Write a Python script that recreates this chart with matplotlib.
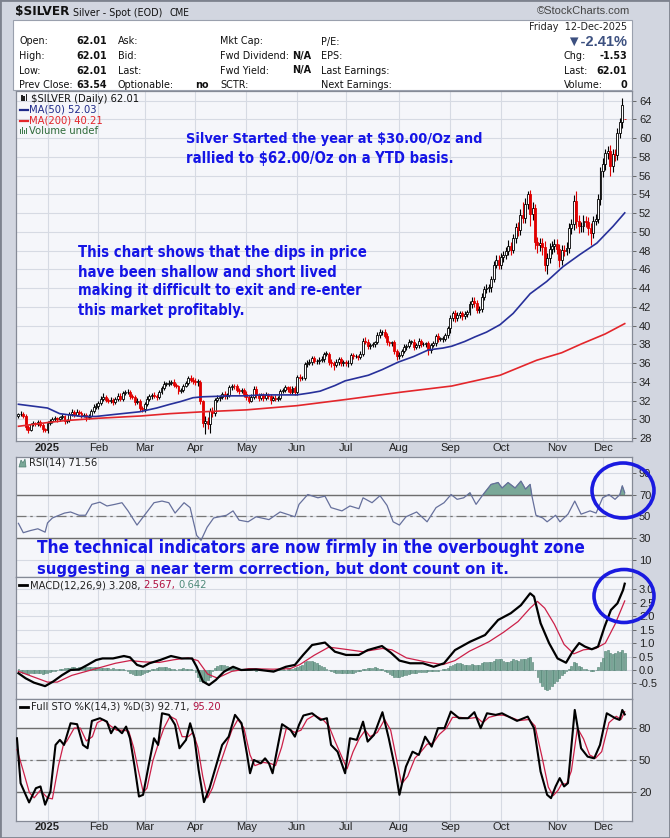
import os
import numpy as np
import pandas as pd
import matplotlib
matplotlib.use('Agg')
import matplotlib.pyplot as plt
from matplotlib import font_manager as fm
from matplotlib.patches import Ellipse, Rectangle, Polygon
from matplotlib.lines import Line2D

# ---------------- data ----------------
holidays = ['2024-12-25', '2025-01-01', '2025-01-20', '2025-02-17', '2025-04-18',
            '2025-05-26', '2025-06-19', '2025-07-04', '2025-09-01', '2025-11-27']
dates = pd.bdate_range('2024-12-13', '2025-12-12')
dates = dates[~dates.isin(pd.to_datetime(holidays))]

closes = [
    30.55, 30.6, 30.3, 29.2, 28.9, 29.45, 29.6, 29.5, 29.7, 29.35, 28.95, 28.85,             # Dec
    29.6, 29.8, 30.0, 30.1, 30.0, 30.2, 30.3, 29.8, 29.9, 30.6, 30.8, 30.5, 30.8, 30.7,
    30.4, 30.5, 30.2, 30.4, 30.9, 31.3, 31.4,                                                # Jan
    31.7, 32.2, 32.4, 32.1, 31.9, 32.1, 31.8, 32.2, 32.5, 32.2, 32.8, 32.9, 32.9, 32.5,
    32.4, 31.8, 32.0, 31.2, 31.1,                                                            # Feb
    31.6, 32.2, 32.5, 32.6, 32.5, 32.4, 32.9, 33.3, 33.8, 33.8, 33.9, 34.0, 33.7, 33.5,
    33.0, 33.1, 33.6, 33.9, 34.4, 34.2, 34.1,                                                # Mar
    34.0, 34.0, 31.9, 29.6, 29.8, 29.5, 30.9, 30.7, 32.1, 32.3, 32.4, 32.7, 32.5, 32.6,
    33.4, 33.6, 33.5, 33.1, 33.0, 33.1, 32.7,                                                # Apr
    32.4, 32.0, 32.4, 33.2, 32.6, 32.3, 32.6, 32.3, 32.6, 32.5, 32.1, 32.3, 32.2, 32.3,
    33.0, 33.1, 33.4, 33.2, 32.9, 33.3, 32.9,                                                # May
    34.5, 34.4, 34.4, 35.9, 36.0, 36.1, 36.5, 36.2, 36.2, 36.3, 36.4, 37.0, 37.0, 36.1,
    36.0, 35.8, 36.1, 36.4, 36.0, 36.1,                                                      # Jun
    36.0, 36.0, 36.9, 36.7, 36.7, 36.6, 37.0, 38.4, 38.3, 37.8, 37.9, 38.0, 38.2, 39.0,
    39.3, 39.3, 38.9, 38.2, 38.1, 38.2, 37.3, 36.7,                                          # Jul
    36.9, 37.3, 37.7, 37.8, 38.3, 38.3, 37.7, 37.9, 38.4, 38.0, 38.0, 38.1, 37.4, 37.9,
    38.1, 38.9, 38.6, 38.6, 38.6, 39.0, 39.7,                                                # Aug
    40.8, 41.3, 40.8, 41.1, 41.3, 41.0, 41.2, 41.4, 42.3, 42.6, 42.4, 41.7, 41.8, 43.1,
    43.9, 44.0, 44.1, 45.0, 46.5, 47.0, 46.5,                                                # Sep
    47.3, 47.5, 48.0, 48.5, 48.1, 49.3, 50.5, 50.2, 51.8, 51.5, 53.0, 54.0, 51.9, 52.6,
    48.9, 48.6, 48.8, 48.4, 46.5, 47.2, 48.2, 48.5, 48.7,                                    # Oct
    48.2, 47.0, 48.1, 48.0, 48.3, 50.4, 50.8, 53.3, 51.2, 50.6, 50.6, 51.2, 51.1, 50.4,
    49.9, 51.2, 51.4, 53.5, 56.5,                                                            # Nov
    57.3, 58.4, 58.6, 57.0, 58.3, 58.2, 60.6, 61.7, 63.54, 62.01,                            # Dec
]
wick_up = [
    0.15, 0.25, 0.2, 0.3, 0.2, 0.15, 0.2, 0.1, 0.25, 0.2, 0.2, 0.15,
    0.2, 0.2, 0.25, 0.2, 0.15, 0.2, 0.3, 0.2, 0.15, 0.2, 0.3, 0.2, 0.25, 0.2, 0.2, 0.15, 0.2, 0.2, 0.2, 0.3, 0.35,
    0.3, 0.3, 0.4, 0.2, 0.2, 0.3, 0.2, 0.2, 0.3, 0.3, 0.25, 0.2, 0.3, 0.2, 0.2, 0.2, 0.3, 0.2, 0.2,
    0.2, 0.3, 0.2, 0.2, 0.3, 0.2, 0.2, 0.3, 0.3, 0.2, 0.3, 0.2, 0.3, 0.2, 0.2, 0.2, 0.2, 0.2, 0.2, 0.3, 0.3,
    0.3, 0.3, 0.2, 0.2, 0.5, 0.4, 0.3, 0.4, 0.2, 0.3, 0.2, 0.2, 0.3, 0.2, 0.3, 0.2, 0.2, 0.3, 0.2, 0.2, 0.2,
    0.3, 0.2, 0.3, 0.3, 0.3, 0.2, 0.2, 0.2, 0.3, 0.2, 0.2, 0.2, 0.3, 0.2, 0.2, 0.2, 0.3, 0.2, 0.3, 0.2, 0.2,
    0.2, 0.3, 0.2, 0.2, 0.3, 0.3, 0.2, 0.3, 0.2, 0.3, 0.3, 0.2, 0.3, 0.2, 0.3, 0.2, 0.3, 0.2, 0.2, 0.2,
    0.2, 0.3, 0.2, 0.2, 0.3, 0.2, 0.3, 0.3, 0.4, 0.3, 0.2, 0.3, 0.2, 0.3, 0.3, 0.2, 0.3, 0.3, 0.2, 0.2, 0.3, 0.2,
    0.3, 0.2, 0.3, 0.2, 0.3, 0.2, 0.3, 0.2, 0.3, 0.2, 0.3, 0.2, 0.3, 0.2, 0.3, 0.2, 0.3, 0.2, 0.3, 0.2, 0.3,
    0.3, 0.3, 0.4, 0.3, 0.3, 0.3, 0.4, 0.3, 0.3, 0.4, 0.4, 0.3, 0.3, 0.4, 0.3, 0.4, 0.3, 0.3, 0.4, 0.5, 0.5,
    0.4, 0.5, 0.4, 0.6, 0.4, 0.5, 0.5, 0.6, 0.6, 1.4, 0.6, 0.4, 0.5, 0.6, 0.4, 0.6, 0.6, 0.5, 0.6, 0.5, 0.6, 0.5, 0.5,
    0.5, 0.5, 0.5, 0.5, 0.6, 0.5, 0.6, 0.6, 1.1, 0.6, 0.5, 0.6, 0.5, 0.5, 0.6, 0.5, 0.5, 0.5, 0.4,
    0.6, 0.5, 0.6, 0.7, 0.5, 0.6, 0.5, 0.5, 0.8, 0.0,
]
wick_dn = [
    0.2, 0.15, 0.2, 0.3, 0.35, 0.2, 0.15, 0.2, 0.2, 0.2, 0.3, 0.25,
    0.3, 0.2, 0.2, 0.15, 0.3, 0.2, 0.2, 0.3, 0.2, 0.2, 0.2, 0.3, 0.2, 0.25, 0.3, 0.2, 0.4, 0.2, 0.2, 0.2, 0.25,
    0.3, 0.2, 0.2, 0.3, 0.2, 0.2, 0.3, 0.2, 0.2, 0.3, 0.2, 0.2, 0.2, 0.3, 0.2, 0.3, 0.2, 0.3, 0.3,
    0.3, 0.2, 0.2, 0.3, 0.2, 0.3, 0.2, 0.2, 0.2, 0.3, 0.2, 0.2, 0.3, 0.2, 0.3, 0.2, 0.2, 0.2, 0.2, 0.2, 0.3,
    0.3, 0.4, 0.3, 0.4, 1.2, 0.5, 1.0, 0.5, 0.3, 0.3, 0.3, 0.2, 0.3, 0.3, 0.2, 0.3, 0.3, 0.2, 0.3, 0.2, 0.3,
    0.3, 0.3, 0.2, 0.2, 0.3, 0.3, 0.2, 0.3, 0.2, 0.3, 0.5, 0.2, 0.3, 0.3, 0.2, 0.2, 0.2, 0.3, 0.2, 0.2, 0.3,
    0.3, 0.3, 0.2, 0.2, 0.3, 0.2, 0.3, 0.2, 0.3, 0.3, 0.2, 0.3, 0.2, 0.3, 0.4, 0.5, 0.2, 0.3, 0.3, 0.3,
    0.3, 0.4, 0.2, 0.3, 0.2, 0.3, 0.2, 0.3, 0.3, 0.3, 0.3, 0.2, 0.3, 0.2, 0.3, 0.3, 0.2, 0.3, 0.3, 0.3, 0.3, 0.4,
    0.3, 0.3, 0.2, 0.3, 0.2, 0.3, 0.3, 0.2, 0.3, 0.3, 0.2, 0.3, 0.5, 0.3, 0.2, 0.3, 0.3, 0.2, 0.3, 0.2, 0.3,
    0.5, 0.3, 0.4, 0.3, 0.3, 0.4, 0.3, 0.3, 0.3, 0.4, 0.4, 0.4, 0.4, 0.3, 0.4, 0.4, 0.4, 0.5, 0.4, 0.4, 0.5,
    0.5, 0.5, 0.4, 0.5, 0.6, 0.4, 0.5, 0.6, 0.5, 0.6, 0.5, 0.6, 1.3, 0.6, 0.7, 0.8, 0.6, 0.9, 0.7, 1.0, 0.5, 0.6, 0.6,
    0.6, 0.8, 0.5, 0.6, 0.5, 0.6, 0.6, 0.6, 0.8, 0.7, 0.6, 0.6, 0.6, 0.7, 1.3, 0.6, 0.5, 0.5, 0.6,
    0.6, 0.7, 0.6, 1.0, 0.6, 0.6, 0.5, 0.6, 0.6, 0.0,
]
first_open = 30.35
last_open = 62.01

ma50_x = [0, 12, 17, 26, 32, 39, 50, 57, 62.5, 67, 72, 76, 88, 94, 100, 114.7, 120, 124.4, 130.5,
          134.7, 144.3, 150, 156.6, 163, 169, 175, 178.7, 184, 188.3, 193, 198.6, 204, 211, 217.8,
          224.6, 231.6, 238.5, 245.2, 250]
ma50_v = [31.6, 31.2, 30.6, 30.3, 30.3, 30.5, 30.8, 31.2, 31.6, 31.9, 32.3, 32.4, 32.5, 32.5, 32.6,
          32.6, 32.8, 33.0, 33.6, 34.1, 34.7, 35.3, 36.1, 36.7, 37.4, 37.6, 37.8, 38.3, 38.8, 39.3,
          40.1, 41.3, 43.4, 44.7, 46.3, 47.6, 48.8, 50.6, 52.03]
ma200_x = [0, 12, 19, 32.5, 50.4, 62.5, 76.2, 93.8, 114.8, 134.7, 158, 178.7, 198.6, 213.7, 224,
           232.2, 241.9, 250]
ma200_v = [29.25, 29.65, 29.85, 30.1, 30.35, 30.6, 30.8, 31.0, 31.45, 32.1, 32.9, 33.55, 34.7, 36.3,
           37.1, 38.05, 39.1, 40.21]

rsi_x = [0, 2, 5, 8, 11, 12, 14, 19, 21.5, 25, 27.7, 30.3, 33.6, 36.5, 39.8, 42.7, 45.2, 48.9, 53,
         55.9, 59.2, 62, 64.6, 68.3, 70.8, 73.5, 75.3, 77.8, 80.5, 85.8, 88.5, 91, 94.7, 98, 103.3,
         107.9, 114, 115.7, 119.3, 123.5, 126.4, 128.9, 133.4, 136.7, 140.4, 142.1, 145.8, 149.1,
         152, 154.5, 157.1, 159.8, 164.2, 168.5, 172.2, 175.5, 178.4, 180.9, 183.6, 186.2, 188.7,
         191.6, 194.9, 197.8, 199.4, 201.9, 204.8, 207.2, 209.1, 211, 211.8, 213.4, 216.2, 218,
         221.5, 223.3, 226.6, 229.4, 232, 235.7, 238.2, 240.9, 243.5, 246, 248, 249, 250]
rsi_v = [43.6, 35, 37, 38.6, 35.5, 44, 48.5, 53, 54, 51, 51, 61, 63, 59.5, 61, 62.5, 55, 42, 54,
         62.5, 64, 62.5, 53, 62.5, 58, 32.5, 28, 40, 48.5, 51, 55, 46.5, 45, 49.6, 47, 54, 49.6,
         61, 70, 67, 68.5, 58, 55, 59.5, 57, 67, 62.5, 69, 60, 45, 42, 49.6, 54, 45, 58, 62.5, 70,
         65.6, 67, 71.6, 61, 70, 79.3, 81, 76, 81, 76, 82.3, 75, 79.3, 68, 51, 48.5, 45, 51, 45,
         52, 64, 52, 55, 53, 67, 70, 65.6, 70, 78, 71.56]

macd_x = [0, 3, 6.4, 11, 14.3, 18, 21.5, 25, 28.5, 32, 34.7, 39, 43.5, 46, 48.9, 51.4, 54, 58.4,
          62.9, 67.3, 71.6, 73.5, 76.1, 78.6, 81.4, 84.8, 88.5, 91.8, 98, 105.2, 110.3, 114, 117.4,
          121.1, 126.4, 130.5, 135.1, 140.4, 144, 149.9, 153.6, 157.1, 161.5, 166.8, 171.2, 175.5,
          180, 186.2, 192.4, 197.8, 203, 207.2, 211, 212.6, 215.3, 218.8, 222.3, 225.8, 228.5,
          231.2, 233.6, 236.4, 239, 241.7, 244.3, 247, 249.3, 250]
macd_v = [-0.12, -0.31, -0.47, -0.6, -0.43, -0.19, 0.0, 0.02, 0.19, 0.37, 0.43, 0.43, 0.52, 0.47,
          0.19, 0.12, 0.25, 0.37, 0.52, 0.43, 0.43, 0.12, -0.43, -0.56, -0.37, -0.06, 0.12, 0.0,
          0.02, -0.06, 0.12, 0.19, 0.56, 0.93, 1.02, 0.68, 0.56, 0.56, 0.74, 0.89, 0.64, 0.35, 0.25,
          0.25, 0.12, 0.25, 0.74, 1.05, 1.3, 1.86, 2.11, 2.41, 2.85, 2.73, 1.74, 1.0, 0.43, 0.27,
          0.68, 1.0, 0.87, 0.77, 0.87, 1.61, 2.23, 2.48, 2.97, 3.208]
sig_x = [0, 6, 12, 16, 22, 32, 40, 46, 52, 58, 64, 70, 74, 78, 82, 88, 95, 105, 112, 116, 122, 128,
         134, 142, 150, 154, 160, 168, 175, 180, 186, 194, 200, 206, 211, 214, 217, 221, 225, 229,
         233, 238, 242, 246, 250]
sig_v = [-0.05, -0.25, -0.45, -0.45, -0.2, 0.05, 0.25, 0.35, 0.3, 0.28, 0.38, 0.45, 0.35, -0.15,
         -0.3, -0.05, 0.05, 0.03, 0.05, 0.2, 0.55, 0.85, 0.78, 0.68, 0.8, 0.75, 0.45, 0.3, 0.2, 0.35,
         0.7, 1.05, 1.4, 1.8, 2.3, 2.55, 2.3, 1.7, 0.95, 0.6, 0.75, 0.8, 1.0, 1.7, 2.567]
macd_hist = [
    0.05, -0.05, -0.1, -0.12, -0.15, -0.13, -0.12, -0.1, -0.1, -0.12, -0.14, -0.12,
    -0.1, -0.08, -0.05, -0.02, 0.0, 0.02, 0.04, 0.06, 0.08, 0.08, 0.1, 0.1, 0.09, 0.1, 0.12, 0.12,
    0.13, 0.12, 0.12, 0.12, 0.1,
    0.1, 0.08, 0.08, 0.06, 0.07, 0.05, 0.06, 0.05, 0.04, 0.05, 0.03, 0.0, -0.05, -0.1, -0.15, -0.2,
    -0.2, -0.18, -0.15,
    -0.1, -0.06, -0.02, 0.02, 0.05, 0.08, 0.1, 0.12, 0.12, 0.1, 0.08, 0.05, 0.03, 0.0, 0.02, 0.05,
    0.06, 0.05, 0.03, 0.02, 0.0,
    -0.08, -0.25, -0.4, -0.45, -0.45, -0.38, -0.25, -0.05, 0.08, 0.15, 0.2, 0.2, 0.18, 0.15, 0.12,
    0.1, 0.06, 0.04, 0.02, 0.0, 0.0,
    0.02, 0.03, 0.02, 0.0, -0.02, 0.01, 0.02, 0.0, -0.01, -0.02, -0.03, -0.02, 0.0, 0.02, 0.03,
    0.02, 0.01, 0.03, 0.05, 0.04, 0.06,
    0.1, 0.15, 0.2, 0.28, 0.33, 0.35, 0.33, 0.3, 0.25, 0.2, 0.15, 0.1, 0.05, 0.0, -0.05, -0.08,
    -0.1, -0.12, -0.13, -0.12,
    -0.12, -0.12, -0.1, -0.1, -0.08, -0.05, -0.02, 0.02, 0.05, 0.07, 0.08, 0.08, 0.1, 0.08, 0.05,
    0.02, -0.03, -0.08, -0.15, -0.2, -0.25, -0.25,
    -0.25, -0.22, -0.2, -0.18, -0.15, -0.12, -0.1, -0.1, -0.08, -0.08, -0.07, -0.06, -0.05, -0.05,
    -0.04, -0.03, -0.02, 0.0, 0.02, 0.05, 0.08,
    0.15, 0.2, 0.22, 0.25, 0.25, 0.22, 0.2, 0.18, 0.2, 0.22, 0.2, 0.18, 0.2, 0.25, 0.28, 0.3, 0.28,
    0.3, 0.35, 0.4, 0.42,
    0.4, 0.35, 0.3, 0.3, 0.35, 0.4, 0.38, 0.35, 0.4, 0.42, 0.4, 0.45, 0.48, 0.3, 0.0, -0.25, -0.45,
    -0.6, -0.7, -0.75, -0.72, -0.6, -0.5,
    -0.4, -0.3, -0.2, -0.1, -0.02, 0.05, 0.15, 0.28, 0.25, 0.15, 0.1, 0.05, 0.02, 0.0, -0.04,
    -0.05, 0.0, 0.1, 0.3,
    0.45, 0.7, 0.75, 0.65, 0.6, 0.65, 0.7, 0.68, 0.75, 0.642,
]

stok_x = [-0.6, 0.9, 3, 4.4, 7.2, 9.1, 11, 13.2, 15.3, 17.1, 18.8, 21.5, 24.2, 26.6, 28.5, 30.3,
          33.6, 36.5, 38.2, 39.8, 42.7, 44.4, 46, 47.9, 49.7, 51.4, 54, 55.9, 57.6, 59.2, 62.1,
          64.6, 66.4, 69.1, 70.8, 72.6, 74.3, 76.5, 78.8, 81.4, 84, 86.7, 89.3, 92, 94.3, 95.5,
          97.1, 99.9, 101.7, 103.3, 104.8, 106.9, 108.7, 112.2, 114, 115.7, 117.5, 121.1, 124.6,
          127.2, 128.9, 131.6, 134.7, 136.7, 139.5, 142.1, 144, 146.6, 150.1, 152.7, 155.3, 157.1,
          159.8, 162.5, 165.1, 167.7, 170.4, 173, 175.7, 178.3, 181.7, 185.4, 188, 190.6, 193.2,
          196.8, 199.4, 202.1, 205.6, 210, 212.6, 215.3, 218, 219.6, 221.5, 223.2, 225, 226.6,
          229.4, 232, 234.7, 237.4, 239.8, 242.6, 246.1, 247.9, 249, 250]
stok_v = [70.5, 28.6, 17.8, 10.7, 24, 25.6, 8.6, 21, 64.3, 69, 64.3, 84.5, 83.6, 64.3, 61.2, 86.7,
          89.2, 86, 75.2, 81.4, 75.2, 81.4, 70.5, 44.1, 16.2, 17.8, 48.8, 70.5, 64.3, 93.8, 92.3,
          83, 61.2, 69, 84.5, 70.5, 41, 11, 24, 44.1, 64.3, 72, 92.3, 84.5, 55, 37.9, 50.3, 47.2,
          51.8, 47.2, 37.9, 62.7, 83.6, 78.3, 72, 83, 91.7, 93.8, 87.6, 89.2, 64.3, 58, 37.9, 70.5,
          69, 86, 67.4, 73.6, 94.8, 70.5, 42.6, 17.8, 44.1, 58, 55, 72, 62.7, 79.9, 79.9, 95.4,
          89.2, 89.2, 94.8, 79.9, 93.8, 92.3, 93.8, 90.7, 86.7, 90.7, 79.9, 39.5, 17.8, 14.7, 25.6,
          33.4, 25.6, 28.7, 96.9, 61.2, 53.4, 51.8, 64.3, 93.8, 89.2, 87.6, 96.9, 92.71]
stod_x = [-0.6, 2, 4.5, 6.5, 9, 12, 14, 16.5, 18.5, 20, 23, 25.5, 28, 30.5, 32.5, 35, 38, 40.5,
          43.5, 45.5, 47.5, 49.5, 51.5, 53, 55.5, 57.5, 60, 62.5, 65, 67.5, 70, 72, 74, 76, 78, 80,
          82.5, 85.5, 88, 90.5, 93, 95.5, 97.5, 101, 104, 106, 108.5, 110.5, 114, 116.5, 119, 122,
          125.5, 128, 130.5, 133, 135.5, 138, 140.5, 143, 145, 148, 151, 153.5, 156, 158, 160.5,
          163.5, 166, 168.5, 171, 173.5, 176.5, 179, 182, 186, 189, 191.5, 194, 197.5, 200, 203,
          206.5, 210.5, 213, 216, 218.5, 220.5, 222.5, 224, 226, 228, 230.5, 233, 235.5, 238,
          240.5, 243.5, 246.5, 248.5, 250]
stod_v = [60, 40, 20, 15, 22, 15, 14, 45, 64, 68, 80, 80, 68, 72, 85, 88, 82, 78, 78, 77, 62, 40,
          20, 24, 50, 64, 80, 91, 88, 72, 72, 76, 62, 35, 15, 24, 42, 62, 78, 88, 80, 55, 45, 48,
          47, 45, 62, 80, 76, 78, 88, 92, 88, 82, 68, 55, 42, 58, 70, 78, 72, 76, 88, 78, 50, 28,
          35, 52, 58, 65, 66, 74, 80, 90, 90, 89, 90, 85, 90, 92, 92, 90, 87, 88, 82, 52, 25, 17,
          22, 28, 28, 40, 80, 70, 55, 52, 58, 85, 91, 88, 95.2]

hdr_left_lbl = ['Open:', 'High:', 'Low:', 'Prev Close:']
hdr_left_val = ['62.01', '62.01', '62.01', '63.54']
hdr_col2_lbl = ['Ask:', 'Bid:', 'Last:', 'Optionable:']
hdr_col2_val = ['', '', '', 'no']
hdr_col3_lbl = ['Mkt Cap:', 'Fwd Dividend:', 'Fwd Yield:', 'SCTR:']
hdr_col3_val = ['', 'N/A', 'N/A', '']
hdr_col4_lbl = ['P/E:', 'EPS:', 'Last Earnings:', 'Next Earnings:']
hdr_right_lbl = ['', 'Chg:', 'Last:', 'Volume:']
hdr_right_val = ['', '-1.53', '62.01', '0']

note_top = ['Silver Started the year at $30.00/Oz and', 'rallied to $62.00/Oz on a YTD basis.']
note_mid = ['This chart shows that the dips in price', 'have been shallow and short lived',
            'making it difficult to exit and re-enter', 'this market profitably.']
note_low = ['The technical indicators are now firmly in the overbought zone',
            'suggesting a near term correction, but dont count on it.']

assert len(closes) == len(dates) == len(wick_up) == len(wick_dn) == len(macd_hist)
assert len(rsi_x) == len(rsi_v) and len(macd_x) == len(macd_v) and len(sig_x) == len(sig_v)
assert len(stok_x) == len(stok_v) and len(stod_x) == len(stod_v)

# ---------------- fonts ----------------
def _w(f):
    return f.weight if isinstance(f.weight, (int, float)) else fm.weight_dict.get(f.weight, 400)


def pick_narrow(bold):
    prefs = ['liberationsansnarrow', 'arialnarrow', 'notosans', 'dejavusans', 'roboto', 'opensans',
             'lato', 'inter']
    best, best_rank = None, 99
    for f in fm.fontManager.ttflist:
        fn = os.path.basename(f.fname).lower().replace('-', '').replace('_', '')
        if f.style != 'normal':
            continue
        if not ('narrow' in fn or 'condensed' in fn) or any(k in fn for k in ('extra', 'semi', 'ultra')):
            continue
        if _w(f) != (700 if bold else 400):
            continue
        rank = next((i for i, p in enumerate(prefs) if fn.startswith(p)), 50)
        if rank < best_rank:
            best, best_rank = f.fname, rank
    return best


NARROW_REG = pick_narrow(False)
NARROW_BOLD = pick_narrow(True)


def nfont(bold=False):
    fname = NARROW_BOLD if bold else NARROW_REG
    if fname:
        return {'fontproperties': fm.FontProperties(fname=fname)}
    return {'family': 'Liberation Sans', 'fontweight': 'bold' if bold else 'normal'}


SANS = 'Liberation Sans'
LEG = 'DejaVu Sans'

W, H = 670, 838
BG = '#d2d6e0'
PANEL = '#f5f6fa'
GRID = '#d6dae3'
RED = '#e00000'
BLUE_TXT = '#1515e6'

fig = plt.figure(figsize=(W / 100, H / 100), dpi=100)
fig.patch.set_facecolor(BG)
renderer = fig.canvas.get_renderer()


def ftext(x, y, s, size, **kw):
    kw.setdefault('va', 'center')
    t = fig.text(x / W, 1 - y / H, s, **kw)
    t.set_fontsize(size)
    return t


def leg_text(x, y, parts):
    for s, color, gap in parts:
        t = ftext(x, y, s, 7.2, color=color, family=LEG)
        x += t.get_window_extent(renderer).width + gap


def fit_text(x, y, s, target_w, **kw):
    t = ftext(x, y, s, 10, **kw)
    w = t.get_window_extent(renderer).width
    t.set_fontsize(10 * target_w / w)
    return t


def px_rect(x, y, w, h, **kw):
    fig.add_artist(Rectangle((x / W, 1 - (y + h) / H), w / W, h / H,
                             transform=fig.transFigure, **kw))


def px_line(x0, y0, x1, y1, **kw):
    fig.add_artist(Line2D([x0 / W, x1 / W], [1 - y0 / H, 1 - y1 / H],
                          transform=fig.transFigure, **kw))


m = dates.month.values
month_pos = [i for i in range(1, len(dates)) if m[i] != m[i - 1]]
month_lbl = ['2025' if dates[i].month == 1 else dates[i].strftime('%b') for i in month_pos]


def panel(top, bottom, yticks, ylim):
    ax = fig.add_axes([16 / W, 1 - bottom / H, 616 / W, (bottom - top) / H])
    ax.set_facecolor(PANEL)
    ax.set_xlim(-1, 253)
    ax.set_ylim(*ylim)
    for s in ax.spines.values():
        s.set_color('#858a96')
        s.set_linewidth(0.9)
    ax.yaxis.tick_right()
    ax.set_yticks(yticks)
    ax.tick_params(axis='y', length=3, width=0.6, color='#555', labelsize=8,
                   labelcolor='#222', pad=2)
    for lab in ax.get_yticklabels():
        lab.set_family(SANS)
    ax.set_xticks(month_pos)
    ax.tick_params(axis='x', length=0, labelbottom=False)
    ax.grid(True, color=GRID, lw=0.8)
    ax.set_axisbelow(True)
    return ax


def month_labels(ax, pad):
    ax.tick_params(axis='x', labelbottom=True, pad=pad, labelsize=8, labelcolor='#222')
    ax.set_xticklabels(month_lbl)
    for lab in ax.get_xticklabels():
        lab.set_family(SANS)
        if lab.get_text() == '2025':
            lab.set_fontweight('bold')


# ---------------- header ----------------
fig.add_artist(Rectangle((0, 0), 1, 1, transform=fig.transFigure, fill=False,
                         edgecolor='#7d828e', lw=2))
fit_text(15, 12, '$SILVER', 54, color='#111', **nfont(True))
fit_text(73, 12.5, 'Silver - Spot (EOD)', 90, color='#111', **nfont(False))
fit_text(169, 13, 'CME', 20, color='#111', **nfont(False))
ftext(630, 11, '\u00a9StockCharts.com', 8, color='#444', ha='right', family=SANS)
px_rect(13, 20, 619, 70, facecolor='white', edgecolor='#9aa0ad', lw=0.8)

# header text size chosen so that "Fwd Dividend:" spans the same width as in the chart
probe = fit_text(0, -50, 'Fwd Dividend:', 69, **nfont(False))
HS = probe.get_fontsize()
probe.remove()

fit_text(529, 26.5, 'Friday  12-Dec-2025', 98, color='#222', **nfont(False))
t = fit_text(566, 41.5, '\u25bc-2.41%', 61, color='#3c5080',
             family=['Liberation Sans', 'DejaVu Sans'], fontweight='bold')
rows_y = [41.5, 56, 70.5, 85]
for i, y in enumerate(rows_y):
    kw = dict(color='#111')
    ftext(19, y, hdr_left_lbl[i], HS, **kw, **nfont(False))
    ftext(107, y, hdr_left_val[i], HS, ha='right', **kw, **nfont(True))
    ftext(118, y, hdr_col2_lbl[i], HS, **kw, **nfont(False))
    ftext(209, y, hdr_col2_val[i], HS, ha='right', **kw, **nfont(True))
    ftext(220, y, hdr_col3_lbl[i], HS, **kw, **nfont(False))
    ftext(311, y, hdr_col3_val[i], HS, ha='right', **kw, **nfont(True))
    ftext(321, y, hdr_col4_lbl[i], HS, **kw, **nfont(False))
    ftext(564, y, hdr_right_lbl[i], HS, **kw, **nfont(False))
    ftext(627, y, hdr_right_val[i], HS, ha='right', **kw, **nfont(True))

# ---------------- price panel ----------------
axp = panel(91, 441, list(range(28, 66, 2)), (27.68, 65.04))
month_labels(axp, 1.5)
idx = np.arange(len(closes))
c = np.array(closes)
o = np.r_[first_open, c[:-1]]
o[-1] = last_open
prev = np.r_[first_open, c[:-1]]
hi = np.maximum(o, c) + np.array(wick_up)
lo = np.minimum(o, c) - np.array(wick_dn)
col = np.where(c >= prev, 'black', RED)
face = np.where(c >= o, 'white', col)
axp.vlines(idx, lo, hi, colors=col, lw=0.8, zorder=2)
axp.bar(idx, np.maximum(np.abs(c - o), 0.05), bottom=np.minimum(o, c), width=0.8,
        color=face, edgecolor=col, linewidth=0.6, zorder=3)
axp.plot(ma50_x, ma50_v, color='#27309a', lw=1.2, zorder=4)
axp.plot(ma200_x, ma200_v, color='#e3262b', lw=1.2, zorder=4)

# legend of price panel
for k, (yy, hh) in enumerate([(95, 6), (96, 5), (94, 7)]):
    px_rect(21 + 2.4 * k, yy, 1.5, hh, facecolor='#222', edgecolor='none')
ftext(31, 98.7, '$SILVER (Daily) 62.01', 7.2, family=LEG, color='#111')
px_line(20, 109.7, 28, 109.7, color='#1f2a8a', lw=1.6)
ftext(29.5, 109.7, 'MA(50) 52.03', 7.2, family=LEG, color='#1f2a8a')
px_line(20, 120.7, 28, 120.7, color='#e3262b', lw=1.6)
ftext(29.5, 120.7, 'MA(200) 40.21', 7.2, family=LEG, color='#e3262b')
for k, hh in enumerate([5, 7, 4, 6]):
    px_rect(20 + 2 * k, 134.5 - hh, 1.4, hh, facecolor='#3d7a4a', edgecolor='none')
ftext(29.5, 130.7, 'Volume undef', 7.2, family=LEG, color='#2f6b3a')

# ---------------- RSI panel ----------------
axr = panel(457, 577, [10, 30, 50, 70, 90], (-5.6, 104.4))
rx, rv = np.array(rsi_x), np.array(rsi_v)
axr.fill_between(rx, 70, rv, where=rv > 70, interpolate=True, color='#7aa898',
                 edgecolor='#5a8a7a', lw=0.5, zorder=2)
axr.axhline(70, color='#6e6e6e', lw=1.0, zorder=1.5)
axr.axhline(30, color='#6e6e6e', lw=1.0, zorder=1.5)
axr.axhline(50, color='#777', lw=0.9, dashes=(8, 3, 2, 3), zorder=1.5)
axr.plot(rx, rv, color='#66709c', lw=0.9, zorder=3)
fig.add_artist(Polygon([[19 / W, 1 - 467 / H], [21 / W, 1 - 460 / H], [23 / W, 1 - 463 / H],
                        [25 / W, 1 - 459 / H], [26 / W, 1 - 467 / H]],
                       closed=True, transform=fig.transFigure, facecolor='#7aa898',
                       edgecolor='#4f7f70', lw=0.5))
ftext(29, 462.5, 'RSI(14) 71.56', 7.2, family=LEG, color='#222')

# ---------------- MACD panel ----------------
axm = panel(577, 699, [-0.5, 0, 0.5, 1, 1.5, 2, 2.5, 3], (-1.078, 3.457))
axm.set_yticklabels(['-0.5', '0.0', '0.5', '1.0', '1.5', '2.0', '2.5', '3.0'])
for lab in axm.get_yticklabels():
    lab.set_family(SANS)
axm.bar(idx, macd_hist, width=0.75, color='#7aa898', edgecolor='#4f7f70', linewidth=0.4,
        zorder=2)
axm.plot(sig_x, sig_v, color='#cc2048', lw=0.9, zorder=3)
axm.plot(macd_x, macd_v, color='black', lw=1.6, zorder=4)
px_line(19, 585, 27, 585, color='black', lw=2)
leg_text(30, 585, [('MACD(12,26,9) 3.208,', '#222', 3), ('2.567,', '#b01040', 3),
                   ('0.642', '#4f8a7a', 0)])

# ---------------- STO panel ----------------
axs = panel(699, 821, [20, 50, 80], (-6.6, 107.1))
month_labels(axs, 1.0)
axs.axhline(80, color='#6e6e6e', lw=1.0, zorder=1.5)
axs.axhline(20, color='#6e6e6e', lw=1.0, zorder=1.5)
axs.axhline(50, color='#777', lw=0.9, dashes=(8, 3, 2, 3), zorder=1.5)
axs.plot(stod_x, stod_v, color='#cc2048', lw=0.9, zorder=3)
axs.plot(stok_x, stok_v, color='black', lw=1.5, zorder=4)
px_line(20, 706.5, 28, 706.5, color='black', lw=2)
leg_text(31, 706.5, [('Full STO %K(14,3) %D(3) 92.71,', '#222', 3), ('95.20', '#b01040', 0)])

# ---------------- annotations ----------------
for y, s, w in zip([139, 159], note_top, [296, 265]):
    fit_text(186, y, s, w, color=BLUE_TXT, zorder=10, **nfont(True))
for y, s, w in zip([253, 272, 291, 310], note_mid, [288, 258, 281, 165]):
    fit_text(78, y, s, w, color=BLUE_TXT, zorder=10, **nfont(True))
for y, s, w in zip([548, 569], note_low, [545, 468]):
    fit_text(37, y, s, w, color=BLUE_TXT, zorder=10, **nfont(True))

for cx, cy, ew, eh in [(623, 490.5, 62, 55), (624, 596, 60, 53)]:
    fig.add_artist(Ellipse((cx / W, 1 - cy / H), ew / W, eh / H, transform=fig.transFigure,
                           fill=False, edgecolor='#1a1ae0', lw=2.6, zorder=11))

fig.savefig('out.png', dpi=100, facecolor=fig.get_facecolor())
